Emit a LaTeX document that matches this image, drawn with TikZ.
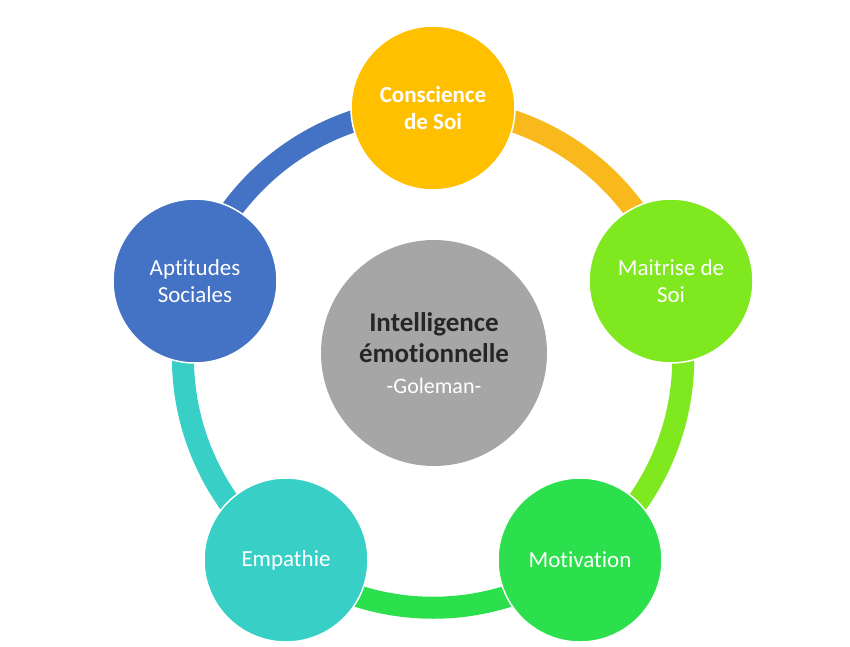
\documentclass[tikz,border=0pt]{standalone}
\usepackage{fontspec}
\setmainfont{Carlito}[Ligatures=NoCommon]
\definecolor{cgold}{HTML}{FFC000}
\definecolor{corange}{HTML}{F9B91C}
\definecolor{clime}{HTML}{80E81E}
\definecolor{cgreen}{HTML}{2BE04C}
\definecolor{cteal}{HTML}{38D0C6}
\definecolor{cblue}{HTML}{4472C4}
\definecolor{cgray}{HTML}{A6A6A6}
\tikzset{
  ring/.style={line width=22pt},
  bubble/.style={circle, minimum size=164pt, inner sep=0pt, draw=white, line width=1.5pt,
    text=white, align=center, font=\fontsize{23}{27}\selectfont},
  core/.style={circle, minimum size=226pt, inner sep=0pt, fill=cgray, align=center}
}
\begin{document}
\begin{tikzpicture}[x=1pt,y=-1pt]
\useasboundingbox[fill=white] (0,0) rectangle (850,646);
\coordinate (C) at (433,358);
% ring arcs
\coordinate (pT) at (433,108);
\coordinate (pR) at (671,281);
\coordinate (pBR) at (580,560);
\coordinate (pBL) at (286,560);
\coordinate (pL) at (195,281);
\draw[ring, corange] (pT) arc[start angle=270, end angle=342, radius=250];
\draw[ring, clime] (pR) arc[start angle=342, end angle=414, radius=250];
\draw[ring, cgreen] (pBR) arc[start angle=54, end angle=126, radius=250];
\draw[ring, cteal] (pBL) arc[start angle=126, end angle=198, radius=250];
\draw[ring, cblue] (pL) arc[start angle=198, end angle=270, radius=250];
% circles
\node[bubble, fill=cgold, font=\fontsize{23}{27}\selectfont\bfseries] (top) at (pT) {Conscience\\de Soi};
\node[bubble, fill=clime] (right) at (pR) {Maitrise de\\Soi};
\node[bubble, fill=cgreen] (br) at (pBR) {Motivation};
\node[bubble, fill=cteal] (bl) at (pBL) {Empathie};
\node[bubble, fill=cblue] (left) at (pL) {Aptitudes\\Sociales};
\node[core, font=\fontsize{27}{31}\selectfont\bfseries, text=black!85] (core) at (434,353)
  {Intelligence\\émotionnelle\\\fontsize{22}{26}\selectfont\mdseries\color{white}-Goleman-};
\end{tikzpicture}
\end{document}
